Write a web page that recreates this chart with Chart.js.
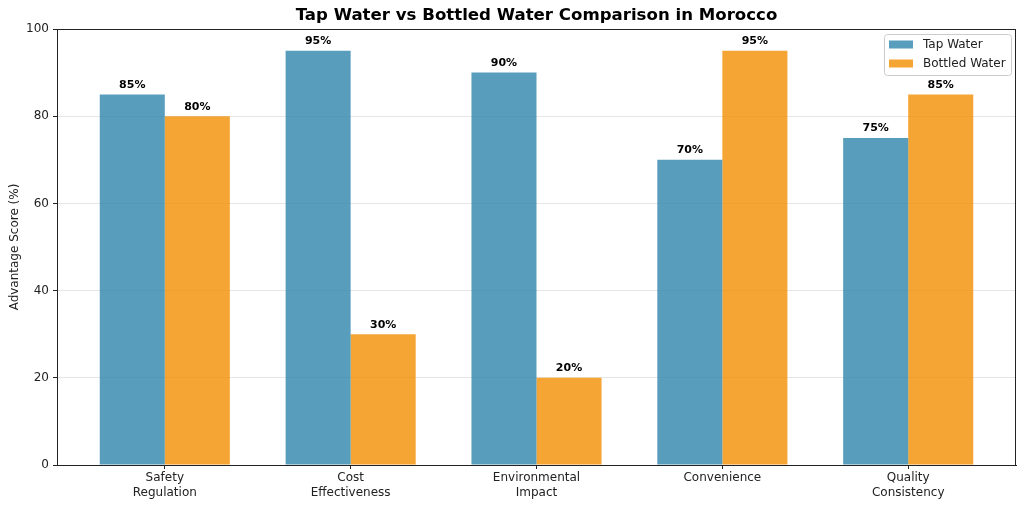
<!DOCTYPE html>
<html>
<head>
<meta charset="utf-8">
<script src="https://cdn.jsdelivr.net/npm/chart.js@4"></script>
<style>
  html, body { margin: 0; padding: 0; background: #fff; }
  #wrap { width: 1024px; height: 508px; }
</style>
</head>
<body>
<div id="wrap"><canvas id="chart" width="1024" height="508"></canvas></div>
<script>
const categories = [['Safety', 'Regulation'], ['Cost', 'Effectiveness'], ['Environmental', 'Impact'], ['Convenience'], ['Quality', 'Consistency']];
const tapWater = [85, 95, 90, 70, 75];
const bottledWater = [80, 30, 20, 95, 85];
const yTicks = [0, 20, 40, 60, 80, 100];

const FONT = '"DejaVu Sans", sans-serif';
const TAP = 'rgba(46, 134, 171, 0.8)';
const BOTTLED = 'rgba(241, 143, 1, 0.8)';

// frame, title, value labels and legend drawn on top of the chart area
const extras = {
  id: 'extras',
  afterDraw(chart) {
    const { ctx, chartArea: a } = chart;
    ctx.save();
    ctx.strokeStyle = '#222';
    ctx.lineWidth = 1;
    ctx.strokeRect(a.left + 0.5, a.top + 0.5, a.right - a.left - 1, a.bottom - a.top);

    ctx.fillStyle = '#000';
    ctx.font = 'bold 16.6px ' + FONT;
    ctx.textAlign = 'center';
    ctx.textBaseline = 'middle';
    ctx.fillText('Tap Water vs Bottled Water Comparison in Morocco', (a.left + a.right) / 2, 16);

    ctx.font = 'bold 11px ' + FONT;
    ctx.textBaseline = 'bottom';
    chart.data.datasets.forEach((ds, di) => {
      chart.getDatasetMeta(di).data.forEach((bar, i) => {
        ctx.fillText(ds.data[i].y + '%', bar.x, bar.y - 4);
      });
    });

    // legend
    const lx = 884, ly = 34, lw = 127, lh = 41;
    ctx.fillStyle = 'rgba(255,255,255,0.8)';
    ctx.strokeStyle = '#ccc';
    ctx.beginPath();
    ctx.roundRect(lx + 0.5, ly + 0.5, lw, lh, 3);
    ctx.fill();
    ctx.stroke();
    ctx.font = '12px ' + FONT;
    ctx.textAlign = 'left';
    ctx.textBaseline = 'middle';
    chart.data.datasets.forEach((ds, di) => {
      const y = ly + 10.5 + di * 19;
      ctx.fillStyle = ds.backgroundColor;
      ctx.fillRect(lx + 5, y - 4, 24, 8);
      ctx.fillStyle = '#222';
      ctx.fillText(ds.label, lx + 39, y);
    });
    ctx.restore();
  }
};

new Chart(document.getElementById('chart'), {
  type: 'bar',
  data: {
    datasets: [
      { label: 'Tap Water', data: tapWater.map((v, i) => ({ x: i, y: v })), backgroundColor: TAP },
      { label: 'Bottled Water', data: bottledWater.map((v, i) => ({ x: i, y: v })), backgroundColor: BOTTLED }
    ]
  },
  options: {
    responsive: false,
    animation: false,
    categoryPercentage: 0.7,
    barPercentage: 1,
    layout: { padding: { left: 0, right: 8, top: 29, bottom: 0 } },
    plugins: { legend: { display: false }, tooltip: { enabled: false }, title: { display: false } },
    scales: {
      x: {
        type: 'linear',
        offset: false,
        min: -0.58,
        max: 4.58,
        afterBuildTicks: (s) => { s.ticks = categories.map((_, i) => ({ value: i })); },
        afterFit: (s) => { s.height = 43; },
        ticks: {
          callback: (v) => categories[v],
          color: '#222',
          font: { family: FONT, size: 12 },
          padding: 2,
          maxRotation: 0,
          autoSkip: false
        },
        grid: { offset: false, color: 'rgba(0,0,0,0)', tickColor: '#222', tickLength: 4, drawOnChartArea: false },
        border: { color: '#222' }
      },
      y: {
        min: 0,
        max: 100,
        afterBuildTicks: (s) => { s.ticks = yTicks.map((v) => ({ value: v })); },
        afterFit: (s) => { s.width = 57; },
        ticks: { color: '#222', font: { family: FONT, size: 12 }, padding: 4 },
        grid: { color: 'rgba(0,0,0,0.1)', tickColor: '#222', tickLength: 4 },
        border: { color: '#222' },
        title: { display: true, text: 'Advantage Score (%)', color: '#222', font: { family: FONT, size: 12 }, padding: { top: 8, bottom: 0 } }
      }
    }
  },
  plugins: [extras]
});
</script>
</body>
</html>
